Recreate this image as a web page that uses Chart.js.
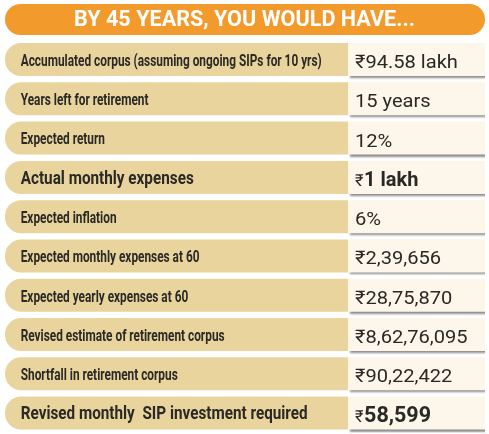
<!DOCTYPE html>
<html><head><meta charset="utf-8">
<script src="https://cdn.jsdelivr.net/npm/chart.js@4.4.1/dist/chart.umd.min.js"></script>
<style>
html,body{margin:0;padding:0;background:#fff;}
#wrap{position:relative;width:489px;height:434px;overflow:hidden;background:#fff;}
canvas{position:absolute;left:0;top:0;}
#hdr{position:absolute;left:5px;top:4px;width:480px;height:31px;border-radius:16px;background:#F39A2C;text-align:center;line-height:31px;color:#fff;font:bold 22.5px Roboto,'Noto Sans',sans-serif;white-space:nowrap;}
#hdr span{display:inline-block;transform-origin:50% 50%;}
</style></head><body>
<div id="wrap"><canvas id="c" width="489" height="434"></canvas><div id="hdr"><span id="ht"></span></div></div>
<script>
// ---- data ----
const title = 'BY 45 YEARS, YOU WOULD HAVE...';
const categories = [
  'Accumulated corpus (assuming ongoing SIPs for 10 yrs)',
  'Years left for retirement',
  'Expected return',
  'Actual monthly expenses',
  'Expected inflation',
  'Expected monthly expenses at 60',
  'Expected yearly expenses at 60',
  'Revised estimate of retirement corpus',
  'Shortfall in retirement corpus',
  'Revised monthly  SIP investment required'
];
const values = [
  '₹94.58 lakh',
  '15 years',
  '12%',
  '₹1 lakh',
  '6%',
  '₹2,39,656',
  '₹28,75,870',
  '₹8,62,76,095',
  '₹90,22,422',
  '₹58,599'
];
const emphasisRows = [3, 9];

// ---- style ----
const SPLIT = 0.7146;
const GOLD = '#E8D49C', CREAM = '#FCF7EA', INK = '#2a2926';
const FAM = "Roboto,'Noto Sans','DejaVu Sans',sans-serif";
const LABEL_SMALL = 'bold 16px ' + FAM;
const LABEL_BIG = 'bold 17.5px ' + FAM;
const VAL_FONT = '18.8px ' + FAM;
const CUR_FONT = '16.5px ' + FAM;
const BOLD_SIZES = {3: 20, 9: 21.5};
// measured text widths in the reference, used to fit the fonts horizontally
const VAL_FIT = {0: 103, 1: 73, 5: 87, 6: 98, 7: 113, 8: 98};

// header text
(function(){
  const m = document.createElement('canvas').getContext('2d');
  m.font = 'bold 22.5px ' + FAM;
  const sx = 341 / m.measureText(title).width;
  const s = document.getElementById('ht');
  s.textContent = title;
  s.style.transform = 'translateY(1.2px) scaleX(' + sx + ')';
})();

const emph = new Set(emphasisRows);

const cellPlugin = {
  id: 'cellText',
  beforeDatasetDraw(chart, args) {
    if (args.index === 1) {
      const c = chart.ctx; c.save();
      c.shadowColor = 'rgba(0,0,0,0.45)';
      c.shadowOffsetX = 2; c.shadowOffsetY = 2; c.shadowBlur = 2;
    }
  },
  afterDatasetDraw(chart, args) {
    if (args.index === 1) chart.ctx.restore();
  },
  afterDatasetsDraw(chart) {
    const {ctx, scales: {x, y}} = chart;
    ctx.save();
    ctx.textBaseline = 'alphabetic';
    ctx.textAlign = 'left';
    ctx.fillStyle = INK;
    ctx.font = LABEL_SMALL;
    const sxS = 301 / ctx.measureText(categories[0]).width;
    ctx.font = LABEL_BIG;
    const sxB = 460 / (ctx.measureText(categories[3]).width + ctx.measureText(categories[9]).width);
    ctx.font = VAL_FONT;
    let tw = 0, mw = 0;
    Object.keys(VAL_FIT).forEach(k => { tw += VAL_FIT[k]; mw += ctx.measureText(values[k]).width; });
    const sxV = tw / mw;
    const lx = x.getPixelForValue(0) + 15.7;
    const vx = x.getPixelForValue(SPLIT) + 7;
    categories.forEach((lab, i) => {
      const cy = y.getPixelForValue(i);
      const big = emph.has(i);
      ctx.font = big ? LABEL_BIG : LABEL_SMALL;
      ctx.save();
      ctx.translate(lx, cy + 6.3);
      ctx.scale(big ? sxB : sxS, 1);
      ctx.fillText(lab, 0, 0);
      ctx.restore();
      const v = values[i];
      const vy = cy + 8.5;
      if (big && v.startsWith('₹')) {
        ctx.font = CUR_FONT;
        ctx.fillText('₹', vx, vy);
        const w = ctx.measureText('₹').width;
        ctx.font = 'bold ' + BOLD_SIZES[i] + 'px ' + FAM;
        ctx.fillText(v.slice(1), vx + w + 0.5, vy);
      } else {
        ctx.font = VAL_FONT;
        ctx.save();
        ctx.translate(vx, vy);
        ctx.scale(sxV, 1);
        ctx.fillText(v, 0, 0);
        ctx.restore();
      }
    });
    ctx.restore();
  }
};

new Chart(document.getElementById('c'), {
  type: 'bar',
  data: {
    labels: categories,
    datasets: [
      {
        data: categories.map(() => [0, SPLIT]),
        backgroundColor: GOLD,
        borderWidth: 0,
        borderSkipped: false,
        borderRadius: {topLeft: 16, bottomLeft: 16, topRight: 0, bottomRight: 0},
        grouped: false,
        barPercentage: 0.84,
        categoryPercentage: 1
      },
      {
        data: categories.map(() => [SPLIT, 1]),
        backgroundColor: CREAM,
        borderWidth: 0,
        borderSkipped: false,
        borderRadius: 0,
        grouped: false,
        barPercentage: 0.84,
        categoryPercentage: 1
      }
    ]
  },
  options: {
    indexAxis: 'y',
    responsive: false,
    animation: false,
    layout: {padding: {top: 39.9, bottom: 1.3, left: 5, right: 4}},
    scales: {
      x: {type: 'linear', min: 0, max: 1, display: false},
      y: {type: 'category', display: false}
    },
    plugins: {legend: {display: false}, tooltip: {enabled: false}, title: {display: false}}
  },
  plugins: [cellPlugin]
});
</script>
</body></html>
